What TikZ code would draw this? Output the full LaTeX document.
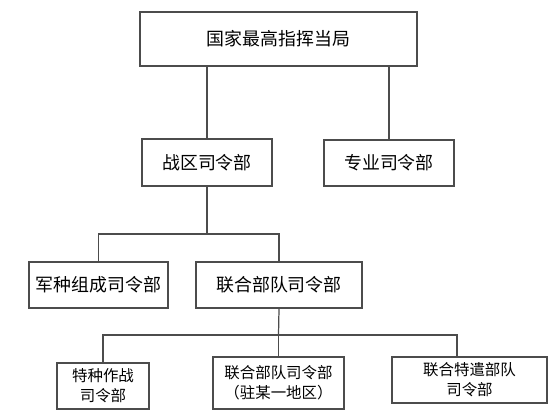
\documentclass[tikz,border=0pt]{standalone}
\usepackage{fontspec}
\setmainfont{Noto Sans CJK SC}
\usepackage{tikz}
\tikzset{
    unit/.style = {rectangle, draw=black!70, line width=0.7pt, text centered, inner sep=0pt, font=\fontsize{10.2}{12}\selectfont},
    small/.style = {unit, align=center, font=\fontsize{8.8}{11.5}\selectfont},
    link/.style = {draw=black!70, line width=0.7pt}
}

\begin{document}
\begin{tikzpicture}[x=0.02cm, y=-0.02cm]
	\useasboundingbox (0, 0) rectangle (550, 415);

	\node[unit, minimum width=5.54cm, minimum height=1.08cm](N1) at (278.5, 39){国家最高指挥当局};
	\node[unit, minimum width=2.6cm, minimum height=0.94cm](N2) at (207, 162.5){战区司令部};
	\node[unit, minimum width=2.6cm, minimum height=0.92cm](N3) at (389, 163){专业司令部};
	\node[unit, minimum width=2.78cm, minimum height=0.92cm](N4) at (98.5, 285){军种组成司令部};
	\node[unit, minimum width=3.32cm, minimum height=0.92cm](N5) at (279, 285){联合部队司令部};
	\node[small, minimum width=1.84cm, minimum height=0.92cm](N6) at (103, 386){特种作战\\司令部};
	\node[small, minimum width=2.62cm, minimum height=1.04cm](N7) at (278.5, 383){联合部队司令部\\（驻某一地区）};
	\node[small, minimum width=3.1cm, minimum height=0.92cm](N8) at (469.5, 380){联合特遣部队\\司令部};

	% first level
	\draw[link] (N1.south -| N2.north) -- (N2.north);
	\draw[link] (N1.south -| N3.north) -- (N3.north);

	% second level
	\coordinate (B1) at (207, 234);
	\draw[link] (N2.south) -- (B1);
	\draw[link] (N4.north) |- (B1) -| (N5.north);

	% third level
	\coordinate (B2) at (278.5, 335);
	\coordinate (T8) at ([xshift=-0.25cm]N8.north);
	\draw[link] (N5.south) -- (B2);
	\draw[link] (N6.north) |- (B2) -| (T8);
	\draw[link] (B2) -- (N7.north);
\end{tikzpicture}
\end{document}
